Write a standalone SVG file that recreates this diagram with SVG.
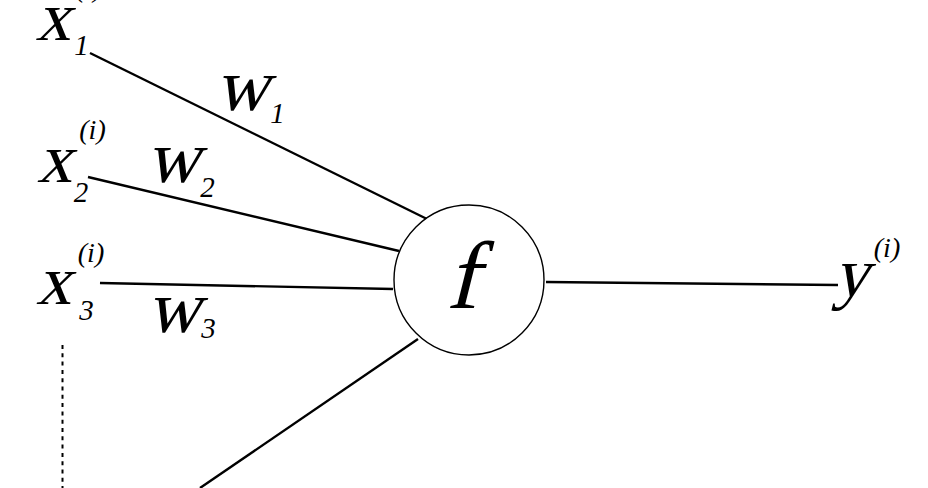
<svg xmlns="http://www.w3.org/2000/svg" width="928" height="488" viewBox="0 0 928 488">
<style>
.edge{stroke:#000;stroke-width:2.4;fill:none;stroke-linecap:butt}
</style>
<rect width="928" height="488" fill="#fff"/>
<g id="connectors">
<line class="edge" x1="90" y1="53" x2="427" y2="219"/>
<line class="edge" x1="88" y1="177" x2="399" y2="251"/>
<line class="edge" x1="100" y1="283" x2="393" y2="289"/>
<line class="edge" x1="418" y1="339" x2="200" y2="488"/>
<line class="edge" x1="546" y1="282" x2="838" y2="285"/>
<line x1="62.5" y1="345" x2="62.5" y2="488" stroke="#000" stroke-width="2" stroke-dasharray="4 4.3"/>
</g>
<g font-family="Liberation Serif" text-anchor="middle" fill="#000">
<g id="x1">
<text font-size="70" transform="translate(53,40) skewX(-14)">x</text>
<text font-size="29" font-style="italic" x="81.5" y="55">1</text>
<text font-size="28" font-style="italic" x="89" y="-3">(i)</text>
</g>
<g id="x2">
<text font-size="70" transform="translate(54.5,182) skewX(-14)">x</text>
<text font-size="29" font-style="italic" x="81" y="202">2</text>
<text font-size="28" font-style="italic" x="92.5" y="139">(i)</text>
</g>
<g id="x3">
<text font-size="70" transform="translate(53.5,304) skewX(-14)">x</text>
<text font-size="29" font-style="italic" x="86.5" y="320">3</text>
<text font-size="28" font-style="italic" x="91" y="262">(i)</text>
</g>
<g id="w1">
<text font-size="74" transform="translate(242,110) skewX(-14)">w</text>
<text font-size="29" font-style="italic" x="277.5" y="123">1</text>
</g>
<g id="w2">
<text font-size="74" transform="translate(173,182) skewX(-14)">w</text>
<text font-size="29" font-style="italic" x="207.5" y="197">2</text>
</g>
<g id="w3">
<text font-size="74" transform="translate(173.5,332) skewX(-14)">w</text>
<text font-size="29" font-style="italic" x="208.5" y="338">3</text>
</g>
<g id="f">
<ellipse cx="469" cy="280" rx="75" ry="75" fill="#fff" stroke="#000" stroke-width="1.4"/>
<text font-size="96" transform="translate(462,308) skewX(-14)">f</text>
</g>
<g id="y">
<text font-size="70" transform="translate(851,296) skewX(-14)">y</text>
<text font-size="28" font-style="italic" x="887" y="257">(i)</text>
</g>
</g>
</svg>
